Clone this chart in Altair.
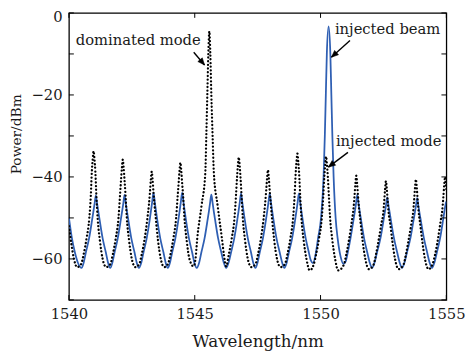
import altair as alt
import pandas as pd

# ---- spectrum (wavelength nm, power dBm) ----
blue_wl = [
    1540.00, 1540.12, 1540.24, 1540.36, 1540.50,
    1540.59, 1540.67, 1540.80, 1540.92, 1540.97, 1541.02, 1541.07, 1541.12, 1541.17, 1541.22, 1541.34, 1541.47, 1541.55, 1541.64,
    1541.73, 1541.81, 1541.94, 1542.06, 1542.11, 1542.16, 1542.21, 1542.26, 1542.31, 1542.36, 1542.48, 1542.61, 1542.69, 1542.78,
    1542.88, 1542.96, 1543.09, 1543.21, 1543.26, 1543.31, 1543.36, 1543.41, 1543.46, 1543.51, 1543.63, 1543.76, 1543.84, 1543.93,
    1544.02, 1544.10, 1544.23, 1544.35, 1544.40, 1544.45, 1544.50, 1544.55, 1544.60, 1544.65, 1544.77, 1544.90, 1544.98, 1545.08,
    1545.18, 1545.26, 1545.39, 1545.51, 1545.56, 1545.61, 1545.66, 1545.71, 1545.76, 1545.81, 1545.93, 1546.06, 1546.15, 1546.25,
    1546.35, 1546.44, 1546.57, 1546.69, 1546.74, 1546.79, 1546.84, 1546.89, 1546.94, 1546.99, 1547.11, 1547.24, 1547.32, 1547.41,
    1547.50, 1547.58, 1547.71, 1547.83, 1547.88, 1547.93, 1547.98, 1548.03, 1548.08, 1548.13, 1548.25, 1548.38, 1548.47, 1548.56,
    1548.66, 1548.74, 1548.87, 1548.99, 1549.04, 1549.09, 1549.14, 1549.19, 1549.24, 1549.29, 1549.41, 1549.52, 1549.61, 1549.70,
    1549.80, 1549.90, 1550.02, 1550.12, 1550.17, 1550.21, 1550.25, 1550.32, 1550.39, 1550.43, 1550.47, 1550.52, 1550.60, 1550.68, 1550.80, 1550.91,
    1551.00, 1551.08, 1551.19, 1551.31, 1551.36, 1551.41, 1551.46, 1551.51, 1551.56, 1551.61, 1551.73, 1551.86, 1551.95, 1552.05,
    1552.15, 1552.24, 1552.38, 1552.50, 1552.55, 1552.60, 1552.65, 1552.70, 1552.75, 1552.80, 1552.92, 1553.05, 1553.14, 1553.24,
    1553.34, 1553.43, 1553.57, 1553.69, 1553.74, 1553.79, 1553.84, 1553.89, 1553.94, 1553.99, 1554.11, 1554.24, 1554.33, 1554.43,
    1554.53, 1554.62, 1554.75, 1554.87, 1554.92, 1554.97, 1555.00,
]
blue_dbm = [
    -50.0, -55.0, -58.5, -61.0, -62.2,
    -60.8, -58.5, -55.0, -50.5, -48.5, -46.5, -44.5, -46.5, -48.5, -50.5, -55.0, -58.5, -60.8, -62.2,
    -60.8, -58.5, -55.0, -50.5, -48.5, -46.5, -44.4, -46.5, -48.5, -50.5, -55.0, -58.5, -60.8, -62.2,
    -60.8, -58.5, -55.0, -50.5, -48.3, -46.0, -43.8, -46.0, -48.3, -50.5, -55.0, -58.5, -60.8, -62.2,
    -60.8, -58.5, -55.0, -50.5, -48.3, -46.0, -43.8, -46.0, -48.3, -50.5, -55.0, -58.5, -60.8, -62.2,
    -60.8, -58.5, -55.0, -50.5, -48.5, -46.3, -44.3, -46.3, -48.5, -50.5, -55.0, -58.5, -60.8, -62.2,
    -60.8, -58.5, -55.0, -50.5, -48.4, -46.2, -44.0, -46.2, -48.4, -50.5, -55.0, -58.5, -60.8, -62.2,
    -60.8, -58.5, -55.0, -50.5, -48.4, -46.2, -44.0, -46.2, -48.4, -50.5, -55.0, -58.5, -60.8, -62.2,
    -60.8, -58.5, -55.0, -50.5, -48.4, -46.2, -44.0, -46.2, -48.4, -50.5, -55.0, -58.0, -60.3, -61.0,
    -59.0, -55.0, -50.0, -40.0, -30.0, -20.0, -10.0, -3.3, -10.0, -20.0, -30.0, -40.0, -50.0, -55.0, -59.5, -61.2,
    -60.6, -58.5, -55.0, -50.5, -48.5, -46.5, -44.4, -46.5, -48.5, -50.5, -55.0, -58.5, -60.8, -62.2,
    -60.8, -58.5, -55.0, -50.7, -48.8, -47.0, -45.0, -47.0, -48.8, -50.7, -55.0, -58.5, -60.8, -62.2,
    -60.8, -58.5, -55.0, -50.8, -49.0, -47.1, -45.2, -47.1, -49.0, -50.8, -55.0, -58.5, -60.8, -62.2,
    -60.8, -58.5, -55.0, -50.5, -48.5, -46.7, -46.0,
]

dot_wl = [
    1540.00, 1540.10, 1540.20, 1540.32,
    1540.48, 1540.59, 1540.70, 1540.81, 1540.87, 1540.91, 1540.945, 1540.98, 1541.015, 1541.05, 1541.09, 1541.14, 1541.23, 1541.34, 1541.48,
    1541.64, 1541.75, 1541.86, 1541.97, 1542.03, 1542.07, 1542.105, 1542.14, 1542.175, 1542.21, 1542.25, 1542.30, 1542.39, 1542.50, 1542.64,
    1542.79, 1542.90, 1543.01, 1543.12, 1543.18, 1543.22, 1543.255, 1543.29, 1543.325, 1543.36, 1543.40, 1543.45, 1543.54, 1543.65, 1543.79,
    1543.93, 1544.04, 1544.15, 1544.26, 1544.32, 1544.36, 1544.395, 1544.43, 1544.465, 1544.50, 1544.54, 1544.59, 1544.68, 1544.79, 1544.95,
    1545.03, 1545.10, 1545.27, 1545.42, 1545.46, 1545.50, 1545.54, 1545.58, 1545.62, 1545.66, 1545.71, 1545.76, 1545.91, 1546.08, 1546.16, 1546.25,
    1546.36, 1546.47, 1546.58, 1546.64, 1546.68, 1546.715, 1546.75, 1546.785, 1546.82, 1546.86, 1546.91, 1547.00, 1547.11, 1547.25,
    1547.41, 1547.52, 1547.63, 1547.74, 1547.80, 1547.84, 1547.875, 1547.91, 1547.945, 1547.98, 1548.02, 1548.07, 1548.16, 1548.27, 1548.41,
    1548.58, 1548.69, 1548.80, 1548.91, 1548.97, 1549.01, 1549.045, 1549.08, 1549.115, 1549.15, 1549.19, 1549.24, 1549.33, 1549.44, 1549.57,
    1549.72, 1549.83, 1549.94, 1550.05, 1550.11, 1550.15, 1550.185, 1550.22, 1550.255, 1550.29, 1550.33, 1550.38, 1550.47, 1550.58, 1550.70,
    1550.92, 1551.03, 1551.14, 1551.25, 1551.31, 1551.35, 1551.385, 1551.42, 1551.455, 1551.49, 1551.53, 1551.58, 1551.67, 1551.78, 1551.92,
    1552.10, 1552.21, 1552.32, 1552.43, 1552.49, 1552.53, 1552.565, 1552.60, 1552.635, 1552.67, 1552.71, 1552.76, 1552.85, 1552.96, 1553.10,
    1553.29, 1553.40, 1553.51, 1553.62, 1553.68, 1553.72, 1553.755, 1553.79, 1553.825, 1553.86, 1553.90, 1553.95, 1554.04, 1554.15, 1554.29,
    1554.45, 1554.56, 1554.67, 1554.78, 1554.84, 1554.88, 1554.915, 1554.95, 1554.985, 1555.00,
]
dot_dbm = [
    -52.0, -56.5, -60.0, -62.0,
    -61.3, -58.7, -55.0, -50.0, -44.5, -38.7, -35.7, -33.7, -35.7, -38.7, -44.5, -50.0, -55.5, -60.0, -62.0,
    -61.3, -58.7, -55.0, -50.0, -44.5, -40.8, -37.8, -35.8, -37.8, -40.8, -44.5, -50.0, -55.5, -60.0, -62.0,
    -61.3, -58.7, -55.0, -50.0, -46.7, -43.7, -40.7, -38.7, -40.7, -43.7, -46.7, -50.0, -55.5, -60.0, -62.0,
    -61.3, -58.7, -55.0, -50.0, -44.8, -41.5, -38.5, -36.5, -38.5, -41.5, -44.8, -50.0, -55.5, -60.0, -61.8,
    -60.0, -55.0, -47.0, -39.0, -30.0, -20.0, -10.0, -4.5, -10.0, -20.0, -30.0, -39.0, -47.0, -55.0, -59.0, -61.8,
    -58.7, -55.0, -50.0, -44.5, -40.2, -37.2, -35.2, -37.2, -40.2, -44.5, -50.0, -55.5, -60.0, -62.0,
    -61.3, -58.7, -55.0, -50.0, -46.3, -43.3, -40.3, -38.3, -40.3, -43.3, -46.3, -50.0, -55.5, -60.0, -62.0,
    -61.3, -58.7, -55.0, -50.0, -44.5, -39.3, -36.3, -34.3, -36.3, -39.3, -44.5, -50.0, -55.5, -60.0, -62.8,
    -61.5, -58.7, -55.0, -50.0, -44.5, -40.0, -37.0, -35.0, -37.0, -40.0, -44.5, -50.0, -55.5, -60.0, -62.8,
    -61.5, -58.7, -55.0, -50.5, -47.7, -44.7, -41.7, -39.7, -41.7, -44.7, -47.7, -50.5, -55.5, -60.0, -62.5,
    -61.5, -58.7, -55.0, -51.0, -49.0, -46.0, -43.0, -41.0, -43.0, -46.0, -49.0, -51.0, -55.5, -60.0, -62.5,
    -61.5, -58.7, -55.0, -51.0, -48.6, -45.6, -42.6, -40.6, -42.6, -45.6, -48.6, -51.0, -55.5, -60.0, -62.5,
    -61.3, -58.7, -55.0, -50.5, -48.0, -45.0, -42.0, -40.0, -42.0, -43.0,
]

# ---- axes ----
x_ticks = [1540, 1545, 1550, 1555]
y_label_values = [0, -20, -40, -60]
y_ticks = [0, -10, -20, -30, -40, -50, -60, -70]

# ---- annotations (data coordinates) ----
ann_text = ["dominated mode", "injected beam", "injected mode"]
ann_x = [1540.27, 1550.57, 1550.61]
ann_y = [-7.7, -5.2, -32.4]
arrow_x1 = [1544.96, 1551.17, 1551.09]
arrow_y1 = [-9.6, -6.7, -34.0]
arrow_x2 = [1545.39, 1550.43, 1550.31]
arrow_y2 = [-12.7, -10.8, -37.6]
arrow_angle = [139.8, 228.2, 233.1]

W, H = 384, 292
FONT = "DejaVu Serif"
BLUE = "#2f5fb3"

blue_df = pd.DataFrame({"wl": blue_wl, "dbm": blue_dbm})
dot_df = pd.DataFrame({"wl": dot_wl, "dbm": dot_dbm})
ann_df = pd.DataFrame({"wl": ann_x, "dbm": ann_y, "label": ann_text})
arr_df = pd.DataFrame({"wl": arrow_x1, "dbm": arrow_y1, "wl2": arrow_x2, "dbm2": arrow_y2})
head_df = pd.DataFrame({"wl": arrow_x2, "dbm": arrow_y2, "ang": arrow_angle})
xt_df = pd.DataFrame({"wl": x_ticks})
yt_df = pd.DataFrame({"dbm": y_ticks})

xscale = alt.Scale(domain=[1540, 1555], nice=False, zero=False)
yscale = alt.Scale(domain=[-70, 0], nice=False, zero=False)
X = alt.X("wl:Q", scale=xscale, axis=alt.Axis(
    values=x_ticks, format="d", ticks=False, domain=False, grid=False,
    labelPadding=7, labelFontSize=15, labelFont=FONT, labelColor="#1a1a1a",
    title="Wavelength/nm", titleFont=FONT, titleFontSize=17, titleFontWeight="normal",
    titleColor="#1a1a1a", titleBaseline="alphabetic", titleY=47,
    labelOverlap=False, labelFlush=False))
Y = alt.Y("dbm:Q", scale=yscale, axis=alt.Axis(
    values=y_label_values, ticks=False, domain=False, grid=False,
    labelPadding=7, labelFontSize=15, labelFont=FONT, labelColor="#1a1a1a",
    labelFlush=True, labelFlushOffset=3,
    title="Power/dBm", titleFont=FONT, titleFontSize=14, titleFontWeight="normal",
    titleColor="#1a1a1a", titleBaseline="alphabetic", titleX=-49, titleY=123,
    titleAngle=270, titleAlign="center", labelOverlap=False))

blue_line = alt.Chart(blue_df).mark_line(
    color=BLUE, strokeWidth=1.8, clip=True, interpolate="monotone"
).encode(x=X, y=Y)

dot_line = alt.Chart(dot_df).mark_line(
    color="black", strokeWidth=2.3, strokeDash=[0.1, 3.6], strokeCap="round",
    clip=True, interpolate="monotone"
).encode(x=X, y=Y)

tick_b = alt.Chart(xt_df).mark_rule(color="black", strokeWidth=1).encode(
    x=X, y=alt.value(H), y2=alt.value(H - 5))
tick_t = alt.Chart(xt_df).mark_rule(color="black", strokeWidth=1).encode(
    x=X, y=alt.value(0), y2=alt.value(5))
tick_l = alt.Chart(yt_df).mark_rule(color="black", strokeWidth=1).encode(
    y=Y, x=alt.value(0), x2=alt.value(5))
tick_r = alt.Chart(yt_df).mark_rule(color="black", strokeWidth=1).encode(
    y=Y, x=alt.value(W), x2=alt.value(W - 5))

texts = alt.Chart(ann_df).mark_text(
    align="left", baseline="alphabetic", font=FONT, fontSize=15, color="#1a1a1a"
).encode(x=X, y=Y, text="label:N")

shafts = alt.Chart(arr_df).mark_rule(color="black", strokeWidth=1.4).encode(
    x=X, y=Y, x2="wl2:Q", y2="dbm2:Q")

heads = alt.Chart(head_df).mark_point(
    shape="M0,0L-0.42,1L0.42,1Z", filled=True, fill="black", stroke="black",
    strokeWidth=0.5, size=200, opacity=1
).encode(x=X, y=Y, angle=alt.Angle("ang:Q", scale=None))

chart = alt.layer(
    blue_line, dot_line, tick_b, tick_t, tick_l, tick_r, texts, shafts, heads
).properties(
    width=W, height=H,
    autosize=alt.AutoSizeParams(type="none"),
    padding={"left": 62, "top": 2, "right": 20, "bottom": 53},
    background="white",
).configure_view(
    stroke="black", strokeWidth=1.3
)

chart.save("out.html", embed_options={"renderer": "svg", "actions": False})
